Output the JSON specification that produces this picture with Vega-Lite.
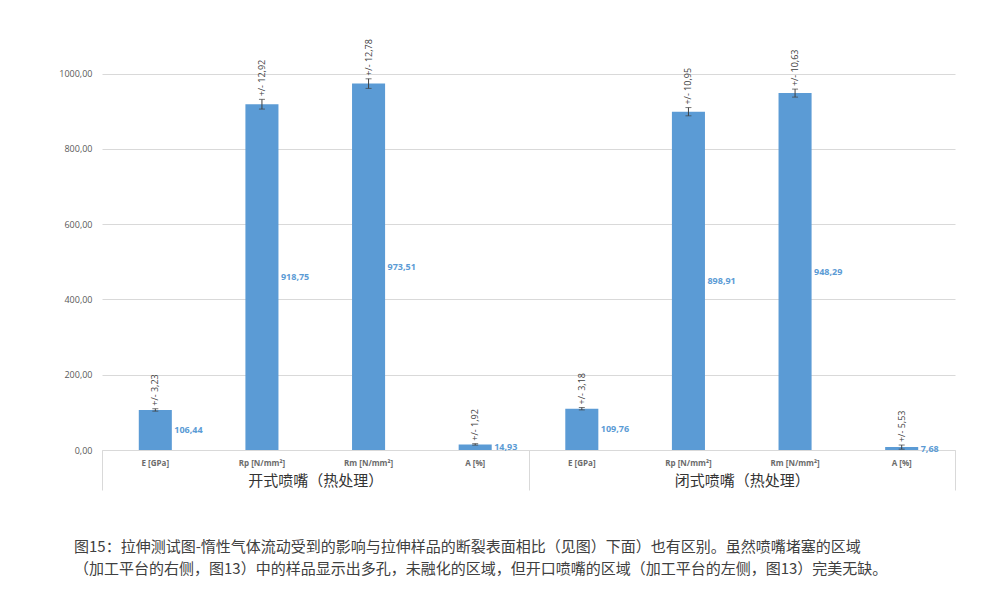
{
  "$schema": "https://vega.github.io/schema/vega-lite/v6.json",
  "width": 853,
  "height": 414,
  "autosize": {"type": "none"},
  "padding": {"left": 102, "top": 36, "right": 45, "bottom": 161},
  "background": "white",
  "config": {
    "locale": {"number": {"decimal": ",", "thousands": "", "grouping": [3], "currency": ["", ""]}},
    "font": "Open Sans",
    "view": {"stroke": null}
  },
  "title": {
    "text": [
      "图15：拉伸测试图-惰性气体流动受到的影响与拉伸样品的断裂表面相比（见图）下面）也有区别。虽然喷嘴堵塞的区域",
      "（加工平台的右侧，图13）中的样品显示出多孔，未融化的区域，但开口喷嘴的区域（加工平台的左侧，图13）完美无缺。"
    ],
    "orient": "bottom",
    "anchor": "start",
    "frame": "group",
    "dx": -28,
    "offset": 49,
    "font": "Noto Sans CJK SC",
    "fontSize": 15,
    "fontWeight": "normal",
    "color": "#404040",
    "lineHeight": 22
  },
  "data": {
    "values": [
      {"key": "开式|E [GPa]", "group": "开式喷嘴（热处理）", "value": 106.44, "err": 3.23},
      {"key": "开式|Rp [N/mm²]", "group": "开式喷嘴（热处理）", "value": 918.75, "err": 12.92},
      {"key": "开式|Rm [N/mm²]", "group": "开式喷嘴（热处理）", "value": 973.51, "err": 12.78},
      {"key": "开式|A [%]", "group": "开式喷嘴（热处理）", "value": 14.93, "err": 1.92},
      {"key": "闭式|E [GPa]", "group": "闭式喷嘴（热处理）", "value": 109.76, "err": 3.18},
      {"key": "闭式|Rp [N/mm²]", "group": "闭式喷嘴（热处理）", "value": 898.91, "err": 10.95},
      {"key": "闭式|Rm [N/mm²]", "group": "闭式喷嘴（热处理）", "value": 948.29, "err": 10.63},
      {"key": "闭式|A [%]", "group": "闭式喷嘴（热处理）", "value": 7.68, "err": 5.53}
    ]
  },
  "transform": [
    {"calculate": "datum.value / 2", "as": "mid"},
    {"calculate": "datum.value + datum.err", "as": "hi"},
    {"calculate": "'+/- ' + replace(format(datum.err, '.2f'), '.', ',')", "as": "errLabel"}
  ],
  "resolve": {"scale": {"x": "independent"}, "axis": {"x": "independent"}},
  "layer": [
    {
      "encoding": {
        "x": {
          "field": "key",
          "type": "nominal",
          "sort": null,
          "scale": {"paddingInner": 0.69, "paddingOuter": 0.345},
          "axis": {
            "title": null,
            "labelAngle": 0,
            "labelExpr": "split(datum.label, '|')[1]",
            "labelFontSize": 8,
            "labelFontWeight": "bold",
            "labelColor": "#6b6b6b",
            "labelPadding": 9,
            "ticks": false,
            "domainColor": "#d9d9d9",
            "orient": "bottom"
          }
        }
      },
      "layer": [
        {
          "mark": {"type": "bar", "color": "#5b9bd5"},
          "encoding": {
            "y": {
              "field": "value",
              "type": "quantitative",
              "scale": {"domain": [0, 1100]},
              "axis": {
                "title": null,
                "values": [0, 200, 400, 600, 800, 1000],
                "format": ".2f",
                "domain": false,
                "ticks": false,
                "gridColor": "#d9d9d9",
                "labelFontSize": 9,
                "labelColor": "#595959",
                "labelPadding": 10
              }
            }
          }
        },
        {
          "mark": {"type": "errorbar", "ticks": {"size": 6}, "color": "#404040", "thickness": 1},
          "encoding": {
            "y": {"field": "value", "type": "quantitative"},
            "yError": {"field": "err"}
          }
        },
        {
          "mark": {"type": "text", "align": "left", "baseline": "middle", "dx": 19, "color": "#5b9bd5", "fontSize": 9, "fontWeight": "bold"},
          "encoding": {
            "y": {"field": "mid", "type": "quantitative"},
            "text": {"field": "value", "type": "quantitative", "format": ".2f"}
          }
        },
        {
          "mark": {"type": "text", "align": "left", "baseline": "middle", "angle": 270, "dx": 3, "color": "#404040", "fontSize": 9},
          "encoding": {
            "y": {"field": "hi", "type": "quantitative"},
            "text": {"field": "errLabel"}
          }
        }
      ]
    },
    {
      "mark": {"type": "text", "opacity": 0},
      "encoding": {
        "x": {
          "field": "group",
          "type": "nominal",
          "sort": null,
          "scale": {"paddingInner": 0, "paddingOuter": 0},
          "axis": {
            "title": null,
            "orient": "bottom",
            "domain": false,
            "labelAngle": 0,
            "tickBand": "extent",
            "tickSize": 40,
            "tickColor": "#d9d9d9",
            "labelFont": "Noto Sans CJK SC",
            "labelFontSize": 15,
            "labelColor": "#333333",
            "labelPadding": -17
          }
        },
        "text": {"value": "."}
      }
    }
  ]
}
